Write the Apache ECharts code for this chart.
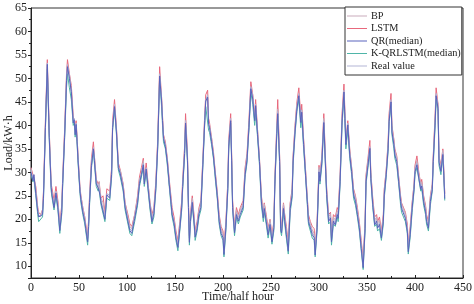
<!DOCTYPE html>
<html>
<head>
<meta charset="utf-8">
<script src="https://cdn.jsdelivr.net/npm/echarts@6/dist/echarts.min.js"></script>
<style>html,body{margin:0;padding:0;background:#fff}#c{width:474px;height:304px}</style>
</head>
<body>
<div id="c"></div>
<script>
const seriesNames = ['BP', 'LSTM', 'QR(median)', 'K-QRLSTM(median)', 'Real value'];
const xTicks = [0, 50, 100, 150, 200, 250, 300, 350, 400, 450];
const yTicks = [10, 15, 20, 25, 30, 35, 40, 45, 50, 55, 60, 65];

const times = [
0,2,3,5,7,8,10,12,13,15,
17,19,21,22,24,26,28,30,32,33,
35,37,38,40,42,44,45,46,47,48,
49,51,52,54,56,57,59,60,61,63,
65,66,68,70,71,72,73,75,77,79,
82,84,85,87,89,91,93,96,98,101,
103,105,108,111,113,115,117,118,120,122,
124,126,128,130,132,134,136,137,138,140,
142,144,146,147,149,151,153,155,157,158,
160,161,163,164,165,166,168,170,171,173,
175,177,179,181,182,184,185,186,188,190,
192,194,196,198,200,201,203,205,206,208,
209,210,212,214,216,218,221,223,225,227,
229,231,233,234,236,238,240,242,243,245,
247,249,251,253,254,256,257,259,260,261,
263,264,266,268,270,272,273,275,277,279,
281,282,284,286,288,289,291,293,295,296,
298,300,301,303,305,307,308,310,312,313,
315,317,319,320,322,324,326,327,328,330,
332,334,336,338,340,342,344,346,348,349,
351,353,354,356,358,360,361,363,365,367,
368,370,372,373,375,376,378,379,381,383,
385,386,388,390,392,393,395,397,399,400,
402,404,406,407,409,411,412,414,416,418,
419,421,422,424,425,427,429,430,431
];

const realValue = [
30.5,28.5,29,26,22,21,20.5,21.5,25,40,
53.3,38,27,25.5,23,26,23,18,22,28,
38,50,53,50.5,47.5,41,41.5,38.5,40.5,37,
33,26.5,24.5,22,20,18.5,15.5,19,24,32,
35.3,33,28,27,27.5,25.5,24,24,20.5,25.5,
25,30,40,44.5,39,31.5,30,27,23,20,
18,17.5,20.5,24,28,30,32,28,31,27,
23,20,21.5,27,36,51,45.5,41.5,37.5,36,
32.5,28,23.5,21.5,19.5,16.5,14.3,18.5,23,27.5,
34.5,41,33,23,15.5,20,24,19.5,16.5,18.5,
21.5,23,32,41.5,45.5,46.5,40.5,40,37,34,
29.5,25.5,20,17.5,16.5,13,18.5,27,36,41.5,
33,23,17.5,21.5,20,21.5,23,30,33,40,
48.3,46,41.5,44.5,38.5,32.7,24.2,20.7,22.8,20,
17.2,19.3,15.7,18.6,27.8,38.5,43,32.7,18.6,17.5,
22.8,20.7,17.2,13.6,22.8,25.5,32.7,39,44,46.8,
41,43.3,36.3,29.9,23.5,20,18.6,17.2,16.5,12.9,
18.6,30.6,28.5,32.7,41,30.6,25.7,20,20.7,15.7,
20,19.3,21.4,20.7,28.5,41.2,47.5,42,36.3,40.5,
34.2,30.6,25.7,24.2,21.5,18.6,14.3,10.1,18.6,28.5,
32,35.5,29.2,23.5,19.3,20,18.6,19.3,16.5,20,
25.7,29.9,35.5,41.2,45.5,39.1,36.3,34.2,32.7,28.5,
24.2,22.8,22.8,20.7,17.9,13.6,17.2,22.8,26.8,30.6,
32,29.2,26.8,27.5,24.2,22.1,20,18.6,24.2,26.8,
32.7,41.2,46.8,44,32.7,30.6,34.2,29.9,24.9
];

const lstm = [
31,29.5,29.5,27,22.5,21.5,21,22,26,41,
54,39,27.5,26.5,24,27,24,19,23,29,
39,51,54,51,48.5,42,42,39.5,41,37.5,
33.5,27,25,22.5,20.5,19,16.5,20,25,33,
36.5,33.5,28.5,27.5,28,26,24.5,25,21.5,26.5,
26,31,41,45.5,39.5,32,30.5,27.5,23.5,21,
19,18.5,21,25,29,31,33,28.5,32,27.5,
23.5,21,22.5,28,37,52.5,46,42,38,36.5,
33,28.5,24.5,22.5,20.5,17.5,15.5,19.5,24,28.5,
35.5,42.5,34,24,16.5,21,25,20.5,17.5,19.5,
22.5,24,33,42.5,46.5,47.5,41.5,40.5,37.5,34.5,
30,26,21,18.5,17.5,14.5,19.5,28,37,42.5,
34,24,18.5,22.5,21,22.5,24,31,34,41,
49.3,46.5,42,45.5,39,33,25,21.5,23.5,21,
18.2,20,16.7,19.5,28.5,40,45.5,33.5,19.5,18.5,
23.5,21.5,18.5,15,23.5,26.5,33.5,40,45,48,
42,44.5,37,30.5,24,21,19.5,18.5,18,14,
19.5,31.5,29.5,33.5,42.5,31.5,26.5,21,21.5,16.5,
21,20.5,22.5,22,29.5,42.5,48.8,43,37,41,
35,31,26.5,25,22.5,19.5,15.5,11.5,19.5,29.5,
33,36.8,30,24.5,20.5,21,19.5,20.5,17.5,21,
26.5,30.5,36.5,42.5,46.8,40,37,35,33.5,29,
25,23.5,23.5,21.5,19,14.8,18.5,23.5,27.5,31.5,
33.5,30,27.5,28.5,25,23,21,19.5,25,27.5,
33.5,42.5,48,44.5,33.5,31.5,35,30.5,25.5
];

const qrMedian = [
30,28.2,29.5,25.5,21.6,20.5,20.2,21,24.5,39.5,
53,37.5,26.8,25,22.5,25.6,22.5,17.6,21.5,27.6,
37.5,49.5,52.5,50,47.2,40.5,41.2,38,40.2,36.5,
32.6,26,24.2,21.5,19.6,18,15.2,18.5,23.6,31.5,
35,32.6,27.5,26.7,27,25.1,23.5,23.6,20,25.2,
24.5,29.6,39.5,44,38.6,31,29.7,26.5,22.6,19.5,
17.6,17,20.2,23.5,27.6,29.5,31.6,27.5,30.7,26.5,
22.6,19.5,21.2,26.5,35.6,50.5,45.2,41,37.2,35.5,
32.2,27.5,23.2,21,19.2,16,14,18,22.6,27,
34,40.5,32.6,22.5,15.1,19.5,23.6,19,16.2,18,
21.2,22.5,31.6,41,45.2,46,40.2,39.5,36.6,33.5,
29.2,25,19.6,17,16.1,12.5,18.2,26.5,35.6,41,
32.6,22.5,17.1,21,19.6,21,22.6,29.5,32.6,39.5,
47.8,45.6,41,44.2,38,32.3,23.7,20.3,22.3,19.6,
16.7,18.9,15.2,18.2,27.3,38.2,42.5,32.3,18.1,17.1,
22.3,20.3,16.7,13.2,22.3,25.1,32.2,38.6,43.5,46.3,
40.6,42.8,35.9,29.4,23.1,19.5,18.2,16.7,16.1,12.4,
18.2,30.1,28.1,32.2,40.6,30.1,25.3,19.5,20.3,15.2,
19.6,18.8,21,20.2,28.1,40.7,47.1,41.5,35.9,40.1,
33.7,30.2,25.2,23.8,21,18.2,13.8,9.7,18.1,28.1,
31.5,35.1,28.7,23.1,18.8,19.6,18.1,18.9,16,19.6,
25.2,29.5,35,40.8,45,38.6,35.9,33.7,32.3,28,
23.8,22.3,22.4,20.2,17.5,13.1,16.8,22.3,26.4,30.1,
31.6,28.7,26.4,27.1,23.7,21.6,19.6,18.1,23.8,26.3,
32.3,40.7,46.3,43.6,32.2,30.2,33.8,29.4,24.4
];

const kqrlstm = [
29.5,28,28.5,25,21,19.5,19.5,20.5,24,39,
52,37,26,24.5,22,25,22,17,21,27,
37,48,51,48,45.5,40,40.5,37.5,39.5,36,
32,25.5,23.5,21,19,17.5,14.5,18,23,31,
34.5,32,27,26,26.5,24.5,23,23,19.5,24.5,
24,29,39,43.5,38,30.5,29,26,22,19,
17,16.5,19.5,23,27,29,31,27,30,26,
22,19,20.5,26,35,50,44,40,36.5,35,
31.5,27,22.5,20.5,18.5,15.5,13.3,17.5,22,26.5,
33.5,40,32,22,14.5,19,23,18.5,15.5,17.5,
20.5,22,31,40.5,44,44,39,38.5,36,33,
28.5,24.5,19,16.5,15.5,12,17.5,26,35,40.5,
32,22,16.5,20.5,19,20.5,22,29,32,39,
47,44.5,40,42.5,37.5,31.5,23,19.5,21.5,19,
16,18.5,14.7,17.6,27,37.5,42,31.5,17.5,16.5,
21.5,19.5,16,12.6,21.5,24.5,31.5,38,43,45.5,
39.5,41.5,35,29,22.5,19,17.5,16,15.5,12,
17.5,29.5,27.5,31.5,40,29.5,24.5,19,19.5,14.5,
19,18.5,20.5,19.5,27.5,40,46,40.5,35,39,
33,29.5,24.5,23,20.5,17.5,13.3,9.3,17.5,27.5,
31,34.5,28.5,22.5,18.5,19,17.5,18,15.5,19,
24.5,29,34.5,40.5,44.5,38,35,33,31.5,27.5,
23,21.5,21.5,19.5,17,12.6,16.2,21.5,26,29.5,
31,28.5,26,26.5,23,21,19,17.5,23,26,
31.5,40,45.5,43,31.5,29.5,33.5,29,24
];

const bp = [
31,28,29.5,26.5,22.5,20.5,21,22,25.5,39.5,
52.5,38.5,27.5,25,23.5,25.5,23.5,18.5,22.5,28.5,
38.5,49.5,52.5,51,47,41.5,41,39,40,37.5,
33.5,26,25,22.5,20.5,18,16,19.5,24.5,32.5,
35,33.5,28.5,26.5,28,25,24.5,23.5,21,25,
25.5,30.5,39.5,44,39.5,31,30.5,27.5,23.5,20.5,
18.5,18,21,24.5,28.5,29.5,32.5,28.5,30.5,27.5,
23.5,20.5,22,27.5,36.5,50.5,46,41,38,35.5,
33,27.5,24,21,20,17,15,19,23.5,27,
35,41,33.5,23.5,16,20.5,24.5,20,17,19,
22,23.5,32.5,41,45,46,41,39.5,37.5,33.5,
30,25,20.5,18,17,13.5,19,27.5,36.5,41,
33.5,23.5,18,22,20.5,22,23.5,30.5,33.5,39.5,
48,46.5,41,44,39,32.2,24.7,21.2,23.3,20.5,
17.7,19.8,16.2,19.1,28.3,39,43.5,33.2,19.1,18,
23.3,21.2,17.7,14.1,23.3,26,33.2,39.5,44.5,46.3,
41.5,42.8,36.8,30.4,24,20.5,19.1,17.7,17,13.4,
19.1,31.1,29,33.2,41.5,31.1,26.2,20.5,21.2,16.2,
20.5,19.8,21.9,21.2,29,41.7,47,42.5,36.8,40,
34.7,31.1,26.2,24.7,22,19.1,14.8,10.6,19.1,29,
32.5,35,29.7,24,19.8,20.5,19.1,19.8,17,20.5,
26.2,30.4,36,41.7,45,39.6,36.8,34.7,33.2,29,
24.7,23.3,23.3,21.2,18.4,14.1,17.7,23.3,27.3,31.1,
32.5,29.7,27.3,28,24.7,22.6,20.5,19.1,24.7,27.3,
33.2,41.7,46.3,44.5,33.2,31.1,34.7,30.4,25.4
];

const valuesByName = [bp, lstm, qrMedian, kqrlstm, realValue];
const colors = ['#c9aabb', '#e8687c', '#5862bc', '#4fb5a8', '#b2b4d4'];
const zOrder = [3, 2, 6, 4, 5];
const font = 'Liberation Serif, Times New Roman, serif';

const chart = echarts.init(document.getElementById('c'), null, {renderer: 'canvas'});
chart.setOption({
  animation: false,
  backgroundColor: '#fff',
  grid: {left: 31, right: 11, top: 8, bottom: 26, show: true, borderColor: '#333', borderWidth: 1, outerBoundsMode: 'none', containLabel: false},
  legend: {
    orient: 'vertical', left: 345, top: 7,
    data: seriesNames,
    icon: 'rect',
    itemWidth: 20, itemHeight: 1, itemGap: 0.5,
    padding: [3, 1, 3, 2],
    borderColor: '#333', borderWidth: 1,
    backgroundColor: '#fff',
    textStyle: {fontFamily: font, fontSize: 10.3, color: '#222', lineHeight: 12, padding: [0, 0, 0, -1]}
  },
  xAxis: {
    type: 'value', min: xTicks[0], max: xTicks[xTicks.length - 1], interval: 50,
    name: 'Time/half hour', nameLocation: 'middle', nameGap: 13, nameMoveOverlap: false,
    nameTextStyle: {fontFamily: font, fontSize: 12, color: '#222', padding: [0, 18, 0, 0]},
    axisLine: {lineStyle: {color: '#222', width: 1}},
    axisTick: {inside: true, length: 3, lineStyle: {color: '#222'}},
    minorTick: {show: true, splitNumber: 2, length: 2, lineStyle: {color: '#222'}},
    axisLabel: {fontFamily: font, fontSize: 12, color: '#222', margin: 4},
    splitLine: {show: false}
  },
  yAxis: {
    type: 'value', min: 7.5, max: yTicks[yTicks.length - 1], minInterval: 5, maxInterval: 5, splitNumber: 11,
    name: 'Load/kW·h', nameLocation: 'middle', nameGap: 16, nameMoveOverlap: false,
    nameTextStyle: {fontFamily: font, fontSize: 12, color: '#222'},
    axisLine: {lineStyle: {color: '#222', width: 1}},
    axisTick: {inside: false, length: 3, lineStyle: {color: '#222'}},
    minorTick: {show: true, splitNumber: 2, length: 2, lineStyle: {color: '#222'}},
    axisLabel: {fontFamily: font, fontSize: 12, color: '#222', margin: 4, showMinLabel: false},
    splitLine: {show: false}
  },
  series: seriesNames.map((name, k) => ({
    name: name,
    type: 'line',
    symbol: 'none',
    z: zOrder[k],
    color: colors[k],
    lineStyle: {width: 1, color: colors[k]},
    data: times.map((t, i) => [t, valuesByName[k][i]])
  }))
});
</script>
</body>
</html>
